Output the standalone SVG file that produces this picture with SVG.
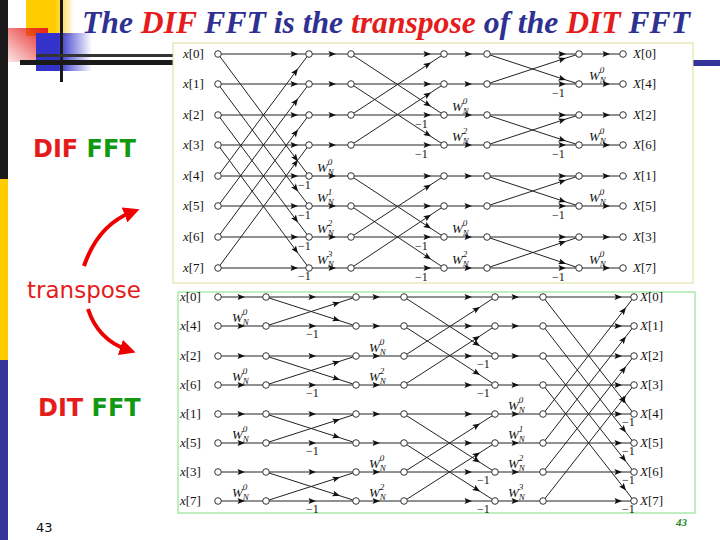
<svg xmlns="http://www.w3.org/2000/svg" width="720" height="540" viewBox="0 0 720 540">
<defs>
<marker id="ar" viewBox="0 0 10 8" refX="10" refY="4" markerWidth="9" markerHeight="6" markerUnits="userSpaceOnUse" orient="auto"><path d="M0,0 L10,4 L0,8 L2,4 Z" fill="#111"/></marker>
<marker id="ra" viewBox="0 0 10 10" refX="5" refY="5" markerWidth="16" markerHeight="16" markerUnits="userSpaceOnUse" orient="auto"><path d="M0,0 L10,5 L0,10 Z" fill="#e00"/></marker>
<linearGradient id="gy" x1="0" x2="1"><stop offset="0.6" stop-color="#ffcc00"/><stop offset="1" stop-color="#ffcc00" stop-opacity="0"/></linearGradient>
<linearGradient id="gr" x1="1" y1="0" x2="0" y2="1"><stop offset="0" stop-color="#e51c1c"/><stop offset="1" stop-color="#e51c1c" stop-opacity="0.1"/></linearGradient>
<linearGradient id="gb" x1="0" x2="1"><stop offset="0.4" stop-color="#3333cc"/><stop offset="1" stop-color="#3333cc" stop-opacity="0"/></linearGradient>
</defs>
<style>
.e{fill:none;stroke:#222;stroke-width:1;marker-mid:url(#ar)}
.n{fill:#fff;stroke:#333;stroke-width:1}
.t{font-family:"Liberation Serif",serif;font-size:13px;fill:#111}
.i{font-style:italic}
.w{font-family:"Liberation Serif",serif;font-style:italic;font-size:13px;fill:#111}
.s{font-size:9px}
.m{font-family:"Liberation Serif",serif;font-size:12px;fill:#111}
.lab{font-family:"DejaVu Sans",sans-serif;font-weight:bold;font-size:24px}
</style>
<rect width="720" height="540" fill="#fff"/>
<!-- decoration -->
<rect x="0" y="0" width="8" height="179" fill="#1a1a1a"/>
<rect x="0" y="179" width="8" height="181" fill="#ffcc00"/>
<rect x="0" y="360" width="8" height="180" fill="#333399"/>
<rect x="26" y="0" width="48" height="36" fill="url(#gy)"/>
<rect x="8" y="28" width="40" height="34" fill="url(#gr)"/>
<rect x="36" y="33" width="56" height="38" fill="url(#gb)"/>
<rect x="60" y="0" width="3" height="82" fill="#1a1a1a"/>
<rect x="36" y="54" width="140" height="3" fill="#333"/>
<rect x="20" y="60" width="156" height="5" fill="#1a1a1a"/>
<rect x="693" y="60" width="27" height="6" fill="#333399"/>
<text x="82" y="33" font-family="Liberation Serif,serif" font-size="32" font-weight="bold" font-style="italic" fill="#2e3192" textLength="608" lengthAdjust="spacingAndGlyphs">The <tspan fill="#e51c1c">DIF</tspan> FFT is the <tspan fill="#e51c1c">transpose</tspan> of the <tspan fill="#e51c1c">DIT</tspan> FFT</text>
<text x="33" y="157" class="lab" fill="#e51c1c">DIF <tspan fill="#119911">FFT</tspan></text>
<text x="38" y="416" class="lab" fill="#e51c1c">DIT <tspan fill="#119911">FFT</tspan></text>
<text x="27" y="298" font-family="DejaVu Sans,sans-serif" font-size="23" fill="#e51c1c">transpose</text>
<path d="M84,266 Q98,225 132,212" fill="none" stroke="#e00" stroke-width="4" marker-end="url(#ra)"/>
<path d="M88,309 Q98,340 128,350" fill="none" stroke="#e00" stroke-width="4" marker-end="url(#ra)"/>
<text x="36" y="532" font-family="DejaVu Sans,sans-serif" font-size="13" fill="#111">43</text>
<text x="676" y="526" font-family="Liberation Serif,serif" font-size="11" font-style="italic" font-weight="bold" fill="#2a8a2a">43</text>

<!-- TOP DIF -->
<g id="dif">
<rect x="173" y="43" width="520" height="240" fill="#fff" stroke="#dede99" stroke-width="1"/>
<g id="dif-connectors">
<path class="e" d="M218,54 L298,54 L309,54"/><path class="e" d="M218,84 L298,84 L309,84"/><path class="e" d="M218,115 L298,115 L309,115"/><path class="e" d="M218,145 L298,145 L309,145"/>
<path class="e" d="M218,176 L298,176 L309,176"/><path class="e" d="M218,206 L298,206 L309,206"/><path class="e" d="M218,237 L298,237 L309,237"/><path class="e" d="M218,268 L298,268 L309,268"/>
<path class="e" d="M218,54 L298,161.4 L309,176"/><path class="e" d="M218,176 L298,68.6 L309,54"/>
<path class="e" d="M218,84 L298,191.4 L309,206"/><path class="e" d="M218,206 L298,98.6 L309,84"/>
<path class="e" d="M218,115 L298,222.4 L309,237"/><path class="e" d="M218,237 L298,129.6 L309,115"/>
<path class="e" d="M218,145 L298,253.2 L309,268"/><path class="e" d="M218,268 L298,159.8 L309,145"/>
<path class="e" d="M309,54 L336,54 L351,54"/><path class="e" d="M309,84 L336,84 L351,84"/><path class="e" d="M309,115 L336,115 L351,115"/><path class="e" d="M309,145 L336,145 L351,145"/>
<path class="e" d="M309,176 L336,176 L351,176"/><path class="e" d="M309,206 L336,206 L351,206"/><path class="e" d="M309,237 L336,237 L351,237"/><path class="e" d="M309,268 L336,268 L351,268"/>
<path class="e" d="M351,54 L431,54 L444,54"/><path class="e" d="M351,84 L431,84 L444,84"/><path class="e" d="M351,115 L431,115 L444,115"/><path class="e" d="M351,145 L431,145 L444,145"/>
<path class="e" d="M351,176 L431,176 L444,176"/><path class="e" d="M351,206 L431,206 L444,206"/><path class="e" d="M351,237 L431,237 L444,237"/><path class="e" d="M351,268 L431,268 L444,268"/>
<path class="e" d="M351,54 L431,106.5 L444,115"/><path class="e" d="M351,115 L431,62.5 L444,54"/>
<path class="e" d="M351,84 L431,136.5 L444,145"/><path class="e" d="M351,145 L431,92.5 L444,84"/>
<path class="e" d="M351,176 L431,228.5 L444,237"/><path class="e" d="M351,237 L431,184.5 L444,176"/>
<path class="e" d="M351,206 L431,259.3 L444,268"/><path class="e" d="M351,268 L431,214.7 L444,206"/>
<path class="e" d="M444,54 L472,54 L487,54"/><path class="e" d="M444,84 L472,84 L487,84"/><path class="e" d="M444,115 L472,115 L487,115"/><path class="e" d="M444,145 L472,145 L487,145"/>
<path class="e" d="M444,176 L472,176 L487,176"/><path class="e" d="M444,206 L472,206 L487,206"/><path class="e" d="M444,237 L472,237 L487,237"/><path class="e" d="M444,268 L472,268 L487,268"/>
<path class="e" d="M487,54 L566,54 L579,54"/><path class="e" d="M487,84 L566,84 L579,84"/><path class="e" d="M487,115 L566,115 L579,115"/><path class="e" d="M487,145 L566,145 L579,145"/>
<path class="e" d="M487,176 L566,176 L579,176"/><path class="e" d="M487,206 L566,206 L579,206"/><path class="e" d="M487,237 L566,237 L579,237"/><path class="e" d="M487,268 L566,268 L579,268"/>
<path class="e" d="M487,54 L566,80 L579,84"/><path class="e" d="M487,84 L566,58 L579,54"/>
<path class="e" d="M487,115 L566,141 L579,145"/><path class="e" d="M487,145 L566,119 L579,115"/>
<path class="e" d="M487,176 L566,202 L579,206"/><path class="e" d="M487,206 L566,180 L579,176"/>
<path class="e" d="M487,237 L566,263.7 L579,268"/><path class="e" d="M487,268 L566,241.3 L579,237"/>
<path class="e" d="M579,54 L610,54 L623,54"/><path class="e" d="M579,84 L610,84 L623,84"/><path class="e" d="M579,115 L610,115 L623,115"/><path class="e" d="M579,145 L610,145 L623,145"/>
<path class="e" d="M579,176 L610,176 L623,176"/><path class="e" d="M579,206 L610,206 L623,206"/><path class="e" d="M579,237 L610,237 L623,237"/><path class="e" d="M579,268 L610,268 L623,268"/>
</g>
<g id="dif-nodes">
<g class="n">
<circle cx="218" cy="54" r="3.3"/><circle cx="218" cy="84" r="3.3"/><circle cx="218" cy="115" r="3.3"/><circle cx="218" cy="145" r="3.3"/><circle cx="218" cy="176" r="3.3"/><circle cx="218" cy="206" r="3.3"/><circle cx="218" cy="237" r="3.3"/><circle cx="218" cy="268" r="3.3"/>
<circle cx="309" cy="54" r="3.3"/><circle cx="309" cy="84" r="3.3"/><circle cx="309" cy="115" r="3.3"/><circle cx="309" cy="145" r="3.3"/><circle cx="309" cy="176" r="3.3"/><circle cx="309" cy="206" r="3.3"/><circle cx="309" cy="237" r="3.3"/><circle cx="309" cy="268" r="3.3"/>
<circle cx="351" cy="54" r="3.3"/><circle cx="351" cy="84" r="3.3"/><circle cx="351" cy="115" r="3.3"/><circle cx="351" cy="145" r="3.3"/><circle cx="351" cy="176" r="3.3"/><circle cx="351" cy="206" r="3.3"/><circle cx="351" cy="237" r="3.3"/><circle cx="351" cy="268" r="3.3"/>
<circle cx="444" cy="54" r="3.3"/><circle cx="444" cy="84" r="3.3"/><circle cx="444" cy="115" r="3.3"/><circle cx="444" cy="145" r="3.3"/><circle cx="444" cy="176" r="3.3"/><circle cx="444" cy="206" r="3.3"/><circle cx="444" cy="237" r="3.3"/><circle cx="444" cy="268" r="3.3"/>
<circle cx="487" cy="54" r="3.3"/><circle cx="487" cy="84" r="3.3"/><circle cx="487" cy="115" r="3.3"/><circle cx="487" cy="145" r="3.3"/><circle cx="487" cy="176" r="3.3"/><circle cx="487" cy="206" r="3.3"/><circle cx="487" cy="237" r="3.3"/><circle cx="487" cy="268" r="3.3"/>
<circle cx="579" cy="54" r="3.3"/><circle cx="579" cy="84" r="3.3"/><circle cx="579" cy="115" r="3.3"/><circle cx="579" cy="145" r="3.3"/><circle cx="579" cy="176" r="3.3"/><circle cx="579" cy="206" r="3.3"/><circle cx="579" cy="237" r="3.3"/><circle cx="579" cy="268" r="3.3"/>
<circle cx="623" cy="54" r="3.3"/><circle cx="623" cy="84" r="3.3"/><circle cx="623" cy="115" r="3.3"/><circle cx="623" cy="145" r="3.3"/><circle cx="623" cy="176" r="3.3"/><circle cx="623" cy="206" r="3.3"/><circle cx="623" cy="237" r="3.3"/><circle cx="623" cy="268" r="3.3"/>
</g>
</g>
<g id="dif-labels">
<text class="t" x="183" y="58"><tspan class="i">x</tspan>[0]</text><text class="t" x="183" y="88"><tspan class="i">x</tspan>[1]</text><text class="t" x="183" y="119"><tspan class="i">x</tspan>[2]</text><text class="t" x="183" y="149"><tspan class="i">x</tspan>[3]</text>
<text class="t" x="183" y="180"><tspan class="i">x</tspan>[4]</text><text class="t" x="183" y="210"><tspan class="i">x</tspan>[5]</text><text class="t" x="183" y="241"><tspan class="i">x</tspan>[6]</text><text class="t" x="183" y="272"><tspan class="i">x</tspan>[7]</text>
<text class="t" x="633" y="58"><tspan class="i">X</tspan>[0]</text><text class="t" x="633" y="88"><tspan class="i">X</tspan>[4]</text><text class="t" x="633" y="119"><tspan class="i">X</tspan>[2]</text><text class="t" x="633" y="149"><tspan class="i">X</tspan>[6]</text>
<text class="t" x="633" y="180"><tspan class="i">X</tspan>[1]</text><text class="t" x="633" y="210"><tspan class="i">X</tspan>[5]</text><text class="t" x="633" y="241"><tspan class="i">X</tspan>[3]</text><text class="t" x="633" y="272"><tspan class="i">X</tspan>[7]</text>
<text class="w" x="317" y="172">W<tspan class="s" dy="3">N</tspan><tspan class="s" dx="-6" dy="-10">0</tspan></text>
<text class="w" x="317" y="202">W<tspan class="s" dy="3">N</tspan><tspan class="s" dx="-6" dy="-10">1</tspan></text>
<text class="w" x="317" y="233">W<tspan class="s" dy="3">N</tspan><tspan class="s" dx="-6" dy="-10">2</tspan></text>
<text class="w" x="317" y="264">W<tspan class="s" dy="3">N</tspan><tspan class="s" dx="-6" dy="-10">3</tspan></text>
<text class="m" x="298" y="189">−1</text><text class="m" x="298" y="219">−1</text><text class="m" x="298" y="250">−1</text><text class="m" x="298" y="280">−1</text>
<text class="w" x="452" y="111">W<tspan class="s" dy="3">N</tspan><tspan class="s" dx="-6" dy="-10">0</tspan></text>
<text class="w" x="452" y="141">W<tspan class="s" dy="3">N</tspan><tspan class="s" dx="-6" dy="-10">2</tspan></text>
<text class="w" x="452" y="233">W<tspan class="s" dy="3">N</tspan><tspan class="s" dx="-6" dy="-10">0</tspan></text>
<text class="w" x="452" y="264">W<tspan class="s" dy="3">N</tspan><tspan class="s" dx="-6" dy="-10">2</tspan></text>
<text class="m" x="415" y="128">−1</text><text class="m" x="415" y="158">−1</text><text class="m" x="415" y="250">−1</text><text class="m" x="415" y="281">−1</text>
<text class="m" x="552" y="97">−1</text><text class="m" x="552" y="158">−1</text><text class="m" x="552" y="219">−1</text><text class="m" x="552" y="281">−1</text>
<text class="w" x="589" y="80">W<tspan class="s" dy="3">N</tspan><tspan class="s" dx="-6" dy="-10">0</tspan></text>
<text class="w" x="589" y="141">W<tspan class="s" dy="3">N</tspan><tspan class="s" dx="-6" dy="-10">0</tspan></text>
<text class="w" x="589" y="202">W<tspan class="s" dy="3">N</tspan><tspan class="s" dx="-6" dy="-10">0</tspan></text>
<text class="w" x="589" y="264">W<tspan class="s" dy="3">N</tspan><tspan class="s" dx="-6" dy="-10">0</tspan></text>
</g>
</g>

<!-- BOTTOM DIT -->
<g id="dit">
<rect x="178" y="292" width="517" height="221" fill="#fff" stroke="#80dd80" stroke-width="1"/>
<g id="dit-connectors">
<path class="e" d="M218,297 L245,297 L266,297"/><path class="e" d="M218,326 L245,326 L266,326"/><path class="e" d="M218,356 L245,356 L266,356"/><path class="e" d="M218,385 L245,385 L266,385"/>
<path class="e" d="M218,414 L245,414 L266,414"/><path class="e" d="M218,443 L245,443 L266,443"/><path class="e" d="M218,472 L245,472 L266,472"/><path class="e" d="M218,501 L245,501 L266,501"/>
<path class="e" d="M266,297 L316,297 L356,297"/><path class="e" d="M266,326 L316,326 L356,326"/><path class="e" d="M266,356 L316,356 L356,356"/><path class="e" d="M266,385 L316,385 L356,385"/>
<path class="e" d="M266,414 L316,414 L356,414"/><path class="e" d="M266,443 L316,443 L356,443"/><path class="e" d="M266,472 L316,472 L356,472"/><path class="e" d="M266,501 L316,501 L356,501"/>
<path class="e" d="M266,297 L340,320.8 L356,326"/><path class="e" d="M266,326 L340,302.2 L356,297"/>
<path class="e" d="M266,356 L340,379.8 L356,385"/><path class="e" d="M266,385 L340,361.2 L356,356"/>
<path class="e" d="M266,414 L340,437.8 L356,443"/><path class="e" d="M266,443 L340,419.2 L356,414"/>
<path class="e" d="M266,472 L340,495.8 L356,501"/><path class="e" d="M266,501 L340,477.2 L356,472"/>
<path class="e" d="M356,297 L380,297 L404,297"/><path class="e" d="M356,326 L380,326 L404,326"/><path class="e" d="M356,356 L380,356 L404,356"/><path class="e" d="M356,385 L380,385 L404,385"/>
<path class="e" d="M356,414 L380,414 L404,414"/><path class="e" d="M356,443 L380,443 L404,443"/><path class="e" d="M356,472 L380,472 L404,472"/><path class="e" d="M356,501 L380,501 L404,501"/>
<path class="e" d="M404,297 L472,297 L495,297"/><path class="e" d="M404,326 L472,326 L495,326"/><path class="e" d="M404,356 L472,356 L495,356"/><path class="e" d="M404,385 L472,385 L495,385"/>
<path class="e" d="M404,414 L472,414 L495,414"/><path class="e" d="M404,443 L472,443 L495,443"/><path class="e" d="M404,472 L472,472 L495,472"/><path class="e" d="M404,501 L472,501 L495,501"/>
<path class="e" d="M404,297 L480,346 L495,356"/><path class="e" d="M404,356 L480,307 L495,297"/>
<path class="e" d="M404,326 L480,375 L495,385"/><path class="e" d="M404,385 L480,336 L495,326"/>
<path class="e" d="M404,414 L480,462.4 L495,472"/><path class="e" d="M404,472 L480,423.6 L495,414"/>
<path class="e" d="M404,443 L480,491.4 L495,501"/><path class="e" d="M404,501 L480,452.6 L495,443"/>
<path class="e" d="M495,297 L519,297 L543,297"/><path class="e" d="M495,326 L519,326 L543,326"/><path class="e" d="M495,356 L519,356 L543,356"/><path class="e" d="M495,385 L519,385 L543,385"/>
<path class="e" d="M495,414 L519,414 L543,414"/><path class="e" d="M495,443 L519,443 L543,443"/><path class="e" d="M495,472 L519,472 L543,472"/><path class="e" d="M495,501 L519,501 L543,501"/>
<path class="e" d="M543,297 L622,297 L634,297"/><path class="e" d="M543,326 L622,326 L634,326"/><path class="e" d="M543,356 L622,356 L634,356"/><path class="e" d="M543,385 L622,385 L634,385"/>
<path class="e" d="M543,414 L622,414 L634,414"/><path class="e" d="M543,443 L622,443 L634,443"/><path class="e" d="M543,472 L622,472 L634,472"/><path class="e" d="M543,501 L622,501 L634,501"/>
<path class="e" d="M543,297 L626,403.6 L634,414"/><path class="e" d="M543,414 L626,307.4 L634,297"/>
<path class="e" d="M543,326 L626,432.6 L634,443"/><path class="e" d="M543,443 L626,336.4 L634,326"/>
<path class="e" d="M543,356 L626,461.6 L634,472"/><path class="e" d="M543,472 L626,366.4 L634,356"/>
<path class="e" d="M543,385 L626,490.6 L634,501"/><path class="e" d="M543,501 L626,395.4 L634,385"/>
</g>
<g id="dit-nodes">
<g class="n">
<circle cx="218" cy="297" r="3.3"/><circle cx="218" cy="326" r="3.3"/><circle cx="218" cy="356" r="3.3"/><circle cx="218" cy="385" r="3.3"/><circle cx="218" cy="414" r="3.3"/><circle cx="218" cy="443" r="3.3"/><circle cx="218" cy="472" r="3.3"/><circle cx="218" cy="501" r="3.3"/>
<circle cx="266" cy="297" r="3.3"/><circle cx="266" cy="326" r="3.3"/><circle cx="266" cy="356" r="3.3"/><circle cx="266" cy="385" r="3.3"/><circle cx="266" cy="414" r="3.3"/><circle cx="266" cy="443" r="3.3"/><circle cx="266" cy="472" r="3.3"/><circle cx="266" cy="501" r="3.3"/>
<circle cx="356" cy="297" r="3.3"/><circle cx="356" cy="326" r="3.3"/><circle cx="356" cy="356" r="3.3"/><circle cx="356" cy="385" r="3.3"/><circle cx="356" cy="414" r="3.3"/><circle cx="356" cy="443" r="3.3"/><circle cx="356" cy="472" r="3.3"/><circle cx="356" cy="501" r="3.3"/>
<circle cx="404" cy="297" r="3.3"/><circle cx="404" cy="326" r="3.3"/><circle cx="404" cy="356" r="3.3"/><circle cx="404" cy="385" r="3.3"/><circle cx="404" cy="414" r="3.3"/><circle cx="404" cy="443" r="3.3"/><circle cx="404" cy="472" r="3.3"/><circle cx="404" cy="501" r="3.3"/>
<circle cx="495" cy="297" r="3.3"/><circle cx="495" cy="326" r="3.3"/><circle cx="495" cy="356" r="3.3"/><circle cx="495" cy="385" r="3.3"/><circle cx="495" cy="414" r="3.3"/><circle cx="495" cy="443" r="3.3"/><circle cx="495" cy="472" r="3.3"/><circle cx="495" cy="501" r="3.3"/>
<circle cx="543" cy="297" r="3.3"/><circle cx="543" cy="326" r="3.3"/><circle cx="543" cy="356" r="3.3"/><circle cx="543" cy="385" r="3.3"/><circle cx="543" cy="414" r="3.3"/><circle cx="543" cy="443" r="3.3"/><circle cx="543" cy="472" r="3.3"/><circle cx="543" cy="501" r="3.3"/>
<circle cx="634" cy="297" r="3.3"/><circle cx="634" cy="326" r="3.3"/><circle cx="634" cy="356" r="3.3"/><circle cx="634" cy="385" r="3.3"/><circle cx="634" cy="414" r="3.3"/><circle cx="634" cy="443" r="3.3"/><circle cx="634" cy="472" r="3.3"/><circle cx="634" cy="501" r="3.3"/>
</g>
</g>
<g id="dit-labels">
<text class="t" x="180" y="301"><tspan class="i">x</tspan>[0]</text><text class="t" x="180" y="330"><tspan class="i">x</tspan>[4]</text><text class="t" x="180" y="360"><tspan class="i">x</tspan>[2]</text><text class="t" x="180" y="389"><tspan class="i">x</tspan>[6]</text>
<text class="t" x="180" y="418"><tspan class="i">x</tspan>[1]</text><text class="t" x="180" y="447"><tspan class="i">x</tspan>[5]</text><text class="t" x="180" y="476"><tspan class="i">x</tspan>[3]</text><text class="t" x="180" y="505"><tspan class="i">x</tspan>[7]</text>
<text class="t" x="640" y="301"><tspan class="i">X</tspan>[0]</text><text class="t" x="640" y="330"><tspan class="i">X</tspan>[1]</text><text class="t" x="640" y="360"><tspan class="i">X</tspan>[2]</text><text class="t" x="640" y="389"><tspan class="i">X</tspan>[3]</text>
<text class="t" x="640" y="418"><tspan class="i">X</tspan>[4]</text><text class="t" x="640" y="447"><tspan class="i">X</tspan>[5]</text><text class="t" x="640" y="476"><tspan class="i">X</tspan>[6]</text><text class="t" x="640" y="505"><tspan class="i">X</tspan>[7]</text>
<text class="w" x="232" y="322">W<tspan class="s" dy="3">N</tspan><tspan class="s" dx="-6" dy="-10">0</tspan></text>
<text class="w" x="232" y="381">W<tspan class="s" dy="3">N</tspan><tspan class="s" dx="-6" dy="-10">0</tspan></text>
<text class="w" x="232" y="439">W<tspan class="s" dy="3">N</tspan><tspan class="s" dx="-6" dy="-10">0</tspan></text>
<text class="w" x="232" y="497">W<tspan class="s" dy="3">N</tspan><tspan class="s" dx="-6" dy="-10">0</tspan></text>
<text class="m" x="306" y="338">−1</text><text class="m" x="306" y="397">−1</text><text class="m" x="306" y="455">−1</text><text class="m" x="306" y="513">−1</text>
<text class="w" x="369" y="352">W<tspan class="s" dy="3">N</tspan><tspan class="s" dx="-6" dy="-10">0</tspan></text>
<text class="w" x="369" y="381">W<tspan class="s" dy="3">N</tspan><tspan class="s" dx="-6" dy="-10">2</tspan></text>
<text class="w" x="369" y="468">W<tspan class="s" dy="3">N</tspan><tspan class="s" dx="-6" dy="-10">0</tspan></text>
<text class="w" x="369" y="497">W<tspan class="s" dy="3">N</tspan><tspan class="s" dx="-6" dy="-10">2</tspan></text>
<text class="m" x="477" y="368">−1</text><text class="m" x="477" y="397">−1</text><text class="m" x="477" y="484">−1</text><text class="m" x="477" y="513">−1</text>
<text class="w" x="508" y="410">W<tspan class="s" dy="3">N</tspan><tspan class="s" dx="-6" dy="-10">0</tspan></text>
<text class="w" x="508" y="439">W<tspan class="s" dy="3">N</tspan><tspan class="s" dx="-6" dy="-10">1</tspan></text>
<text class="w" x="508" y="468">W<tspan class="s" dy="3">N</tspan><tspan class="s" dx="-6" dy="-10">2</tspan></text>
<text class="w" x="508" y="497">W<tspan class="s" dy="3">N</tspan><tspan class="s" dx="-6" dy="-10">3</tspan></text>
<text class="m" x="622" y="426">−1</text><text class="m" x="622" y="455">−1</text><text class="m" x="622" y="484">−1</text><text class="m" x="622" y="513">−1</text>
</g>
</g>
</svg>
